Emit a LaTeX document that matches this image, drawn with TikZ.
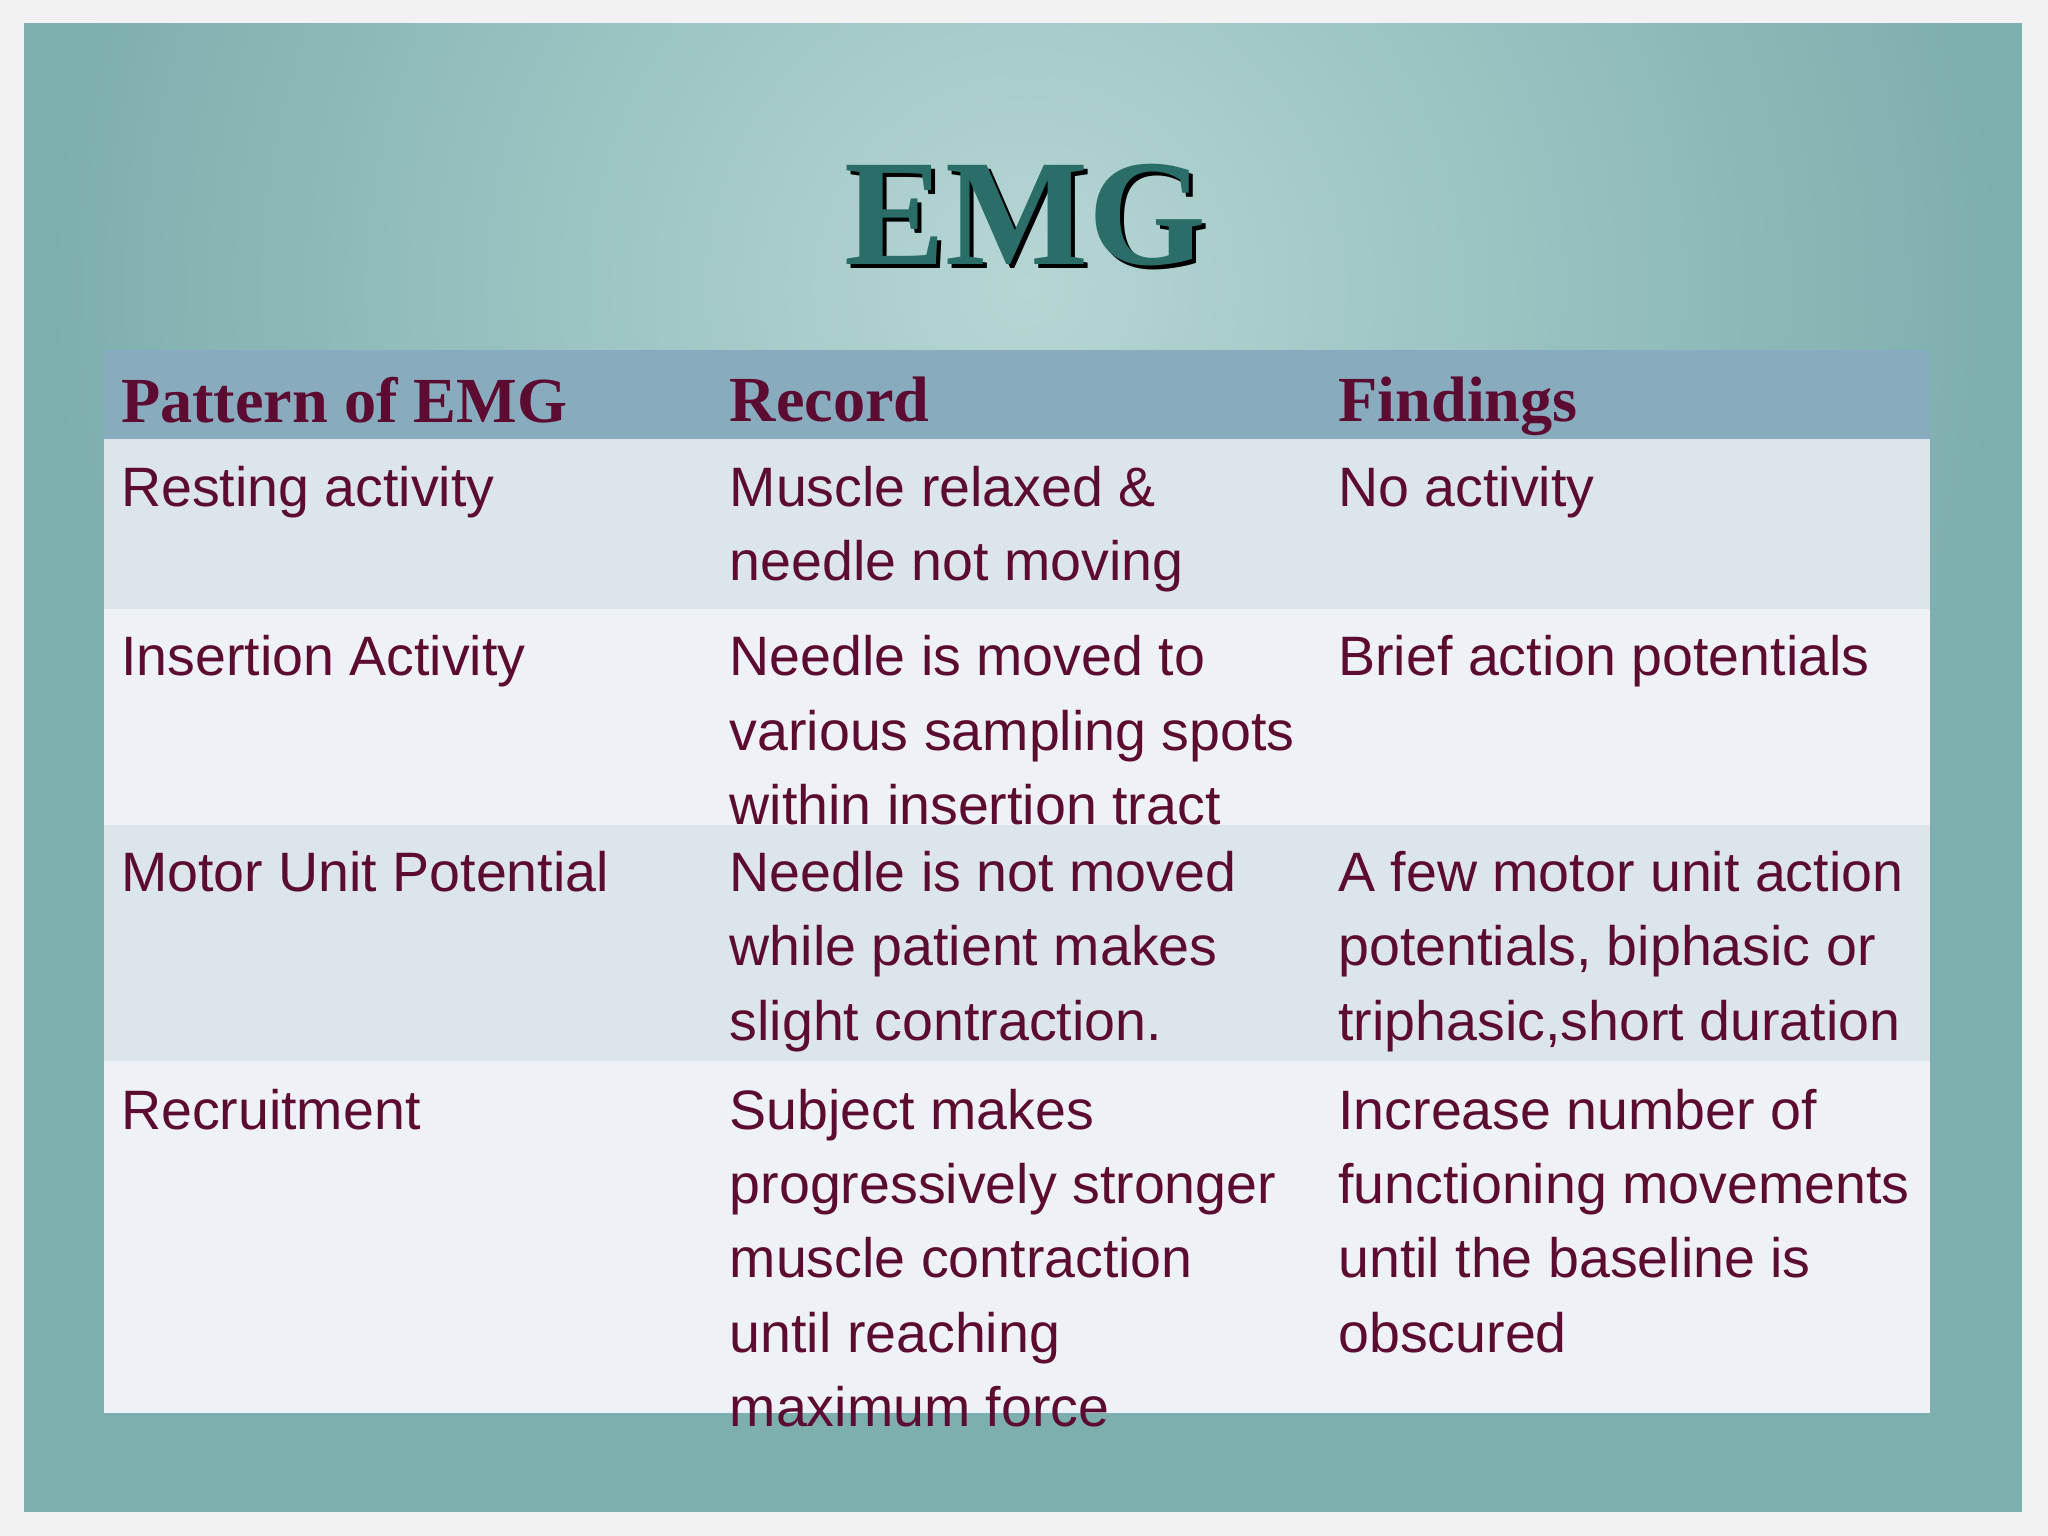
\documentclass[tikz,border=0pt]{standalone}
\usepackage{fontspec}
\setmainfont{Liberation Sans}
\newfontfamily\titlefont{Liberation Serif}
\definecolor{paper}{HTML}{F2F2F2}
\definecolor{teal1}{HTML}{7DAFAE}
\definecolor{teal2}{HTML}{B6D6D4}
\definecolor{headbg}{HTML}{88ACBE}
\definecolor{rowA}{HTML}{DCE5EA}
\definecolor{rowB}{HTML}{EEF2F6}
\definecolor{maroon}{HTML}{5C0C30}
\definecolor{titleteal}{HTML}{2B6D69}

\begin{document}
\begin{tikzpicture}[x=1cm,y=1cm,
    cell/.style={anchor=north west,inner sep=0pt,align=left,
      font=\fontsize{12.1}{16.2}\selectfont,text=maroon},
    headcell/.style={anchor=north west,inner sep=0pt,
      font=\titlefont\bfseries\fontsize{14}{15}\selectfont,text=maroon}]

\useasboundingbox (0,0) rectangle (15.68,-11.76);
\fill[paper] (0,0) rectangle (15.68,-11.76);
% textured slide
\begin{scope}
\clip (0.18,-0.18) rectangle (15.48,-11.58);
\fill[teal1] (0.18,-0.18) rectangle (15.48,-11.58);
\shade[inner color=teal2,outer color=teal1] (7.85,-2.2) circle (7.5);
\end{scope}

% table rows
\fill[headbg] (0.80,-2.68) rectangle (14.78,-3.36);
\fill[rowA] (0.80,-3.36) rectangle (14.78,-4.66);
\fill[rowB] (0.80,-4.66) rectangle (14.78,-6.32);
\fill[rowA] (0.80,-6.32) rectangle (14.78,-8.12);
\fill[rowB] (0.80,-8.12) rectangle (14.78,-10.82);

% title
\node[font=\titlefont\bfseries\fontsize{33}{34}\selectfont,text=black] (shadow) at (7.88,-1.68) {EMG};
\node[font=\titlefont\bfseries\fontsize{33}{34}\selectfont,text=titleteal] (title) at (7.85,-1.65) {EMG};

% header
\node[headcell] (h1) at (0.92,-2.88) {Pattern of EMG};
\node[headcell] (h2) at (5.58,-2.88) {Record};
\node[headcell] (h3) at (10.24,-2.88) {Findings};

% rows
\node[cell] (p1) at (0.92,-3.56) {Resting activity};
\node[cell] (r1) at (5.58,-3.56) {Muscle relaxed \&\\ needle not moving};
\node[cell] (f1) at (10.24,-3.56) {No activity};

\node[cell] (p2) at (0.92,-4.86) {Insertion Activity};
\node[cell] (r2) at (5.58,-4.86) {Needle is moved to\\ various sampling spots\\ within insertion tract};
\node[cell] (f2) at (10.24,-4.86) {Brief action potentials};

\node[cell] (p3) at (0.92,-6.51) {Motor Unit Potential};
\node[cell] (r3) at (5.58,-6.51) {Needle is not moved\\ while patient makes\\ slight contraction.};
\node[cell] (f3) at (10.24,-6.51) {A few motor unit action\\ potentials, biphasic or\\ triphasic,short duration};

\node[cell] (p4) at (0.92,-8.33) {Recruitment};
\node[cell] (r4) at (5.58,-8.33) {Subject makes\\ progressively stronger\\ muscle contraction\\ until reaching\\ maximum force};
\node[cell] (f4) at (10.24,-8.33) {Increase number of\\ functioning movements\\ until the baseline is\\ obscured};
\end{tikzpicture}
\end{document}
